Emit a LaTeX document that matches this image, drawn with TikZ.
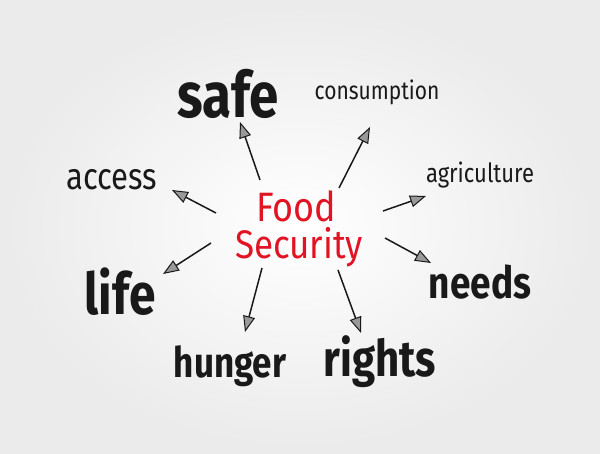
\documentclass[tikz,border=0pt]{standalone}
\usepackage{fontspec}
\setmainfont{Fira Sans}
\usetikzlibrary{arrows.meta}
\usetikzlibrary{positioning}
\definecolor{fsred}{RGB}{226,20,36}
\definecolor{ink}{RGB}{25,25,25}
\tikzset{word/.style={inner sep=0pt,text=ink,yscale=1.2}}
\tikzset{big/.style={word,font=\bfseries\fontsize{#1}{#1}\selectfont}}
\tikzset{small/.style={word,font=\fontsize{#1}{#1}\selectfont}}
\tikzset{title/.style={word,yscale=0.95,text=fsred,font=\fontsize{#1}{#1}\selectfont}}

\begin{document}
\begin{tikzpicture}[x=1pt,y=-1pt]
\tikzstyle{arr} = [ink, line width=1.5pt, -{Triangle[length=16pt,width=12pt,fill=black!40,line width=1pt]}]
\useasboundingbox (0,0) rectangle (600,453);
\shade[inner color=white, outer color=black!8] (0,0) rectangle (600,453);

\node[title=36](food) at (296,206) {Food};
\node[title=35](sec) at (299,247) {Security};

\node[big=53](safe) at (228,94) {safe};
\node[small=21](cons) at (377,92) {consumption};
\node[small=31](access) at (112,180) {access};
\node[small=22](agri) at (480,175) {agriculture};
\node[big=48](life) at (120,292) {life};
\node[big=37](needs) at (480,282) {needs};
\node[big=35](hunger) at (230,366) {hunger};
\node[big=42](rights) at (380,362) {rights};

\coordinate (safeA) at (260,180);   \coordinate (safeB) at (240,122);
\coordinate (consA) at (339,188);   \coordinate (consB) at (370,127);
\coordinate (accessA) at (216,213); \coordinate (accessB) at (172,190);
\coordinate (agriA) at (383,211);   \coordinate (agriB) at (426,196);
\coordinate (lifeA) at (211,243);   \coordinate (lifeB) at (163,274);
\coordinate (needsA) at (385,238);  \coordinate (needsB) at (431,263);
\coordinate (hungerA) at (262,268); \coordinate (hungerB) at (245,332);
\coordinate (rightsA) at (338,270); \coordinate (rightsB) at (361,333);

\draw[arr] (safeA) -- (safeB);
\draw[arr] (consA) -- (consB);
\draw[arr] (accessA) -- (accessB);
\draw[arr] (agriA) -- (agriB);
\draw[arr] (lifeA) -- (lifeB);
\draw[arr] (needsA) -- (needsB);
\draw[arr] (hungerA) -- (hungerB);
\draw[arr] (rightsA) -- (rightsB);

\end{tikzpicture}
\end{document}
